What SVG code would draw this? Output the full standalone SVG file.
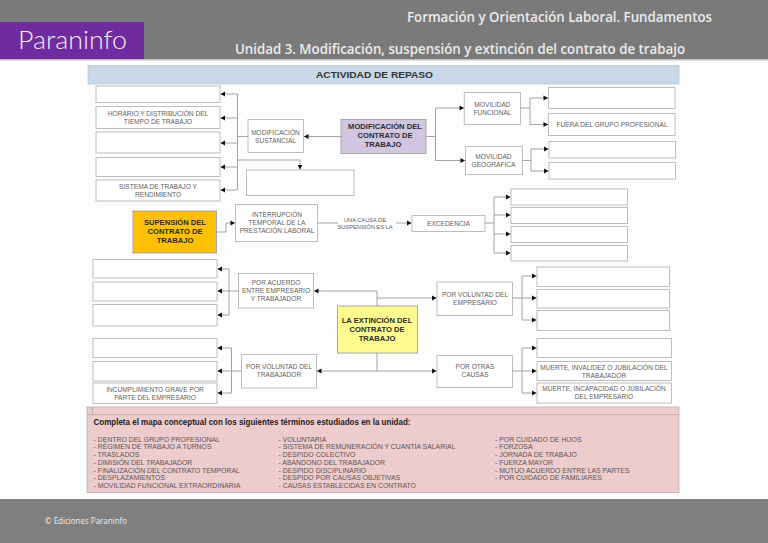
<svg xmlns="http://www.w3.org/2000/svg" width="768" height="543" viewBox="0 0 768 543">
<defs>
<marker id="a" markerUnits="userSpaceOnUse" markerWidth="6" markerHeight="6" refX="5" refY="3" orient="auto"><path d="M0.5 0.6L5 3L0.5 5.4Z" fill="#111"/></marker>
</defs>
<style>
text{font-family:"Liberation Sans",Arial,sans-serif;text-anchor:middle}
.b rect{fill:#fff;stroke:#bdbdbd;stroke-width:1}
.b text,.t text{font-size:6.6px;fill:#5e5e5e}
.k text{font-size:7.6px;font-weight:bold;fill:#2c2c2c}
.k rect{stroke:#a8a8a8;stroke-width:1}
#connectors path{fill:none;stroke:#9a9a9a;stroke-width:.9}
#connectors path.h{marker-end:url(#a)}
.l text{text-anchor:start;font-size:6.9px;fill:#5f5555}
.hd text{font-family:"Open Sans",sans-serif;font-weight:600;fill:#ececec;font-size:14px;text-anchor:start}
</style>
<rect width="768" height="543" fill="#fdfdfd"/>
<g id="banner" class="hd">
<rect width="768" height="59" fill="#7a7a7a"/>
<rect y="59" width="768" height="1.500" fill="#bdbdbd"/>
<rect y="22" width="144" height="37" fill="#6f2c9e"/>
<text x="407" y="21.500" textLength="305" lengthAdjust="spacingAndGlyphs">Formación y Orientación Laboral. Fundamentos</text>
<text x="235" y="54" textLength="450" lengthAdjust="spacingAndGlyphs">Unidad 3. Modificación, suspensión y extinción del contrato de trabajo</text>
<text x="18" y="49" textLength="109" lengthAdjust="spacingAndGlyphs" style="font-family:Lato,sans-serif;font-weight:300;font-size:25px;fill:#f2ecf6">Paraninfo</text>
</g>
<g id="title">
<rect x="88" y="65.500" width="591" height="18.500" fill="#c9d7e6" stroke="#c4c9ce" stroke-width=".8"/>
<text x="374.500" y="78.300" font-size="9.600" font-weight="bold" fill="#333" textLength="117" lengthAdjust="spacingAndGlyphs">ACTIVIDAD DE REPASO</text>
</g>
<g id="n1" class="b"><rect x="96" y="86" width="124" height="16.500"/></g>
<g id="n2" class="b"><rect x="96" y="106.500" width="124" height="22"/><text x="158" y="115.500">HORARIO Y DISTRIBUCIÓN DEL</text><text x="158" y="123.500">TIEMPO DE TRABAJO</text></g>
<g id="n3" class="b"><rect x="96" y="132" width="124" height="21"/></g>
<g id="n4" class="b"><rect x="96" y="157.500" width="124" height="19"/></g>
<g id="n5" class="b"><rect x="96" y="180" width="124" height="21"/><text x="158" y="188.500">SISTEMA DE TRABAJO Y</text><text x="158" y="196.500">RENDIMIENTO</text></g>
<g id="n6" class="b"><rect x="248" y="119.500" width="55.500" height="33"/><text x="275.500" y="134.500">MODIFICACIÓN</text><text x="275.500" y="142.500">SUSTANCIAL</text></g>
<g id="n7" class="k"><rect x="341" y="119.500" width="85" height="34" fill="#d0c6e0"/><text x="385" y="129">MODIFICACIÓN DEL</text><text x="385" y="138">CONTRATO DE</text><text x="383" y="147">TRABAJO</text></g>
<g id="n8" class="b"><rect x="246.500" y="170" width="107.500" height="25.500"/></g>
<g id="n9" class="k"><rect x="133" y="211" width="83.500" height="42" fill="#fec000"/><text x="175" y="225">SUPENSIÓN DEL</text><text x="175" y="234">CONTRATO DE</text><text x="175" y="243">TRABAJO</text></g>
<g id="n10" class="b"><rect x="235.500" y="204.500" width="82" height="37"/><text x="277" y="217">INTERRUPCIÓN</text><text x="277" y="225">TEMPORAL DE LA</text><text x="277" y="233">PRESTACIÓN LABORAL</text></g>
<g id="n11" class="b"><rect x="464.300" y="92.500" width="56.200" height="32"/><text x="492.500" y="106.500">MOVILIDAD</text><text x="492.500" y="114.500">FUNCIONAL</text></g>
<g id="n12" class="b"><rect x="548.500" y="87.500" width="126.500" height="21"/></g>
<g id="n13" class="b"><rect x="548.500" y="113.500" width="126.500" height="22"/><text x="612" y="126.500">FUERA DEL GRUPO PROFESIONAL</text></g>
<g id="n14" class="b"><rect x="465.500" y="146.500" width="57" height="28"/><text x="493.500" y="158.500">MOVILIDAD</text><text x="493.500" y="166.500">GEOGRAFICA</text></g>
<g id="n15" class="b"><rect x="549" y="141.500" width="126.500" height="16.500"/></g>
<g id="n16" class="b"><rect x="549" y="162.500" width="126.500" height="16.500"/></g>
<g id="n17" class="b"><rect x="412" y="215.500" width="73" height="16"/><text x="448.500" y="225.500">EXCEDENCIA</text></g>
<g id="n18" class="b"><rect x="511" y="189" width="116.500" height="16"/></g>
<g id="n19" class="b"><rect x="511" y="207.500" width="116.500" height="16"/></g>
<g id="n20" class="b"><rect x="511" y="226.500" width="116.500" height="16"/></g>
<g id="n21" class="b"><rect x="511" y="245.500" width="116.500" height="15.500"/></g>
<g id="n22" class="b"><rect x="93" y="259.500" width="124" height="18.500"/></g>
<g id="n23" class="b"><rect x="93" y="282" width="124" height="19"/></g>
<g id="n24" class="b"><rect x="93" y="304.500" width="124" height="21.500"/></g>
<g id="n25" class="b"><rect x="238.500" y="273.500" width="75" height="34.500"/><text x="276" y="285">POR ACUERDO</text><text x="276" y="293">ENTRE EMPRESARIO</text><text x="276" y="301">Y TRABAJADOR</text></g>
<g id="n26" class="k"><rect x="337.500" y="306" width="80" height="47" fill="#fdfb8f"/><text x="377" y="323">LA EXTINCIÓN DEL</text><text x="377" y="332">CONTRATO DE</text><text x="377" y="341">TRABAJO</text></g>
<g id="n27" class="b"><rect x="437" y="282" width="75.500" height="33.500"/><text x="475" y="296.500">POR VOLUNTAD DEL</text><text x="475" y="304.500">EMPRESARIO</text></g>
<g id="n28" class="b"><rect x="537" y="267" width="132.500" height="19.500"/></g>
<g id="n29" class="b"><rect x="537" y="289.500" width="132.500" height="18.500"/></g>
<g id="n30" class="b"><rect x="537" y="310.500" width="132.500" height="20"/></g>
<g id="n31" class="b"><rect x="93" y="338.500" width="124" height="19"/></g>
<g id="n32" class="b"><rect x="93" y="361.500" width="124" height="19.500"/></g>
<g id="n33" class="b"><rect x="93" y="383" width="124" height="20.500"/><text x="155" y="391.500">INCUMPLIMIENTO GRAVE POR</text><text x="155" y="399.500">PARTE DEL EMPRESARIO</text></g>
<g id="n34" class="b"><rect x="241.500" y="354.500" width="75" height="33.500"/><text x="279" y="369">POR VOLUNTAD DEL</text><text x="279" y="377">TRABAJADOR</text></g>
<g id="n35" class="b"><rect x="437" y="355.500" width="75.500" height="32"/><text x="475" y="368.500">POR OTRAS</text><text x="475" y="376.500">CAUSAS</text></g>
<g id="n36" class="b"><rect x="537" y="338.500" width="134.500" height="19"/></g>
<g id="n37" class="b"><rect x="537" y="361.500" width="134.500" height="19"/><text x="604" y="369.500">MUERTE, INVALIDEZ O JUBILACIÓN DEL</text><text x="604" y="377.500">TRABAJADOR</text></g>
<g id="n38" class="b"><rect x="537" y="383" width="134.500" height="20"/><text x="604" y="391">MUERTE, INCAPACIDAD O JUBILACIÓN</text><text x="604" y="399">DEL EMPRESARIO</text></g>
<g id="connectors">
<path class="h" d="M341 136.500H304"/>
<path d="M248 136.500H237.500M237.500 94V190"/>
<path class="h" d="M237.500 94H220.500"/><path class="h" d="M237.500 118H220.500"/><path class="h" d="M237.500 143H220.500"/><path class="h" d="M237.500 167H220.500"/><path class="h" d="M237.500 190H220.500"/>
<path class="h" d="M237.500 160H300V169.500"/>
<path d="M426 136.500H435.500M435.500 108V160.500"/>
<path class="h" d="M435.500 108H464"/><path class="h" d="M435.500 160.500H465"/>
<path d="M520.500 108H530M530 98V124.500"/>
<path class="h" d="M530 98H548"/><path class="h" d="M530 124.500H548"/>
<path d="M522.500 160.500H531M531 149V171"/>
<path class="h" d="M531 149H548.500"/><path class="h" d="M531 171H548.500"/>
<path class="h" d="M216.500 232H226V223H235"/>
<path d="M317.500 223H338"/>
<path class="h" d="M396 223H411.500"/>
<path d="M485 223H494M494 197V253"/>
<path class="h" d="M494 197H510.500"/><path class="h" d="M494 215H510.500"/><path class="h" d="M494 234H510.500"/><path class="h" d="M494 253H510.500"/>
<path class="h" d="M377 306V291H314"/>
<path class="h" d="M377 298H436.500"/>
<path class="h" d="M377 353V371H317"/>
<path class="h" d="M377 371H436.500"/>
<path d="M238.500 291H229M229 269V315"/>
<path class="h" d="M229 269H217.500"/><path class="h" d="M229 291H217.500"/><path class="h" d="M229 315H217.500"/>
<path d="M241.500 371H231.500M231.500 348V393"/>
<path class="h" d="M231.500 348H217.500"/><path class="h" d="M231.500 371H217.500"/><path class="h" d="M231.500 393H217.500"/>
<path d="M512.500 298H522M522 276V320"/>
<path class="h" d="M522 276H536.500"/><path class="h" d="M522 298H536.500"/><path class="h" d="M522 320H536.500"/>
<path d="M512.500 371H522M522 348V393"/>
<path class="h" d="M522 348H536.500"/><path class="h" d="M522 371H536.500"/><path class="h" d="M522 393H536.500"/>
</g>
<g id="causa" class="t"><text x="365" y="221.500" style="font-size:5.700px">UNA CAUSA DE</text><text x="365" y="228.500" style="font-size:5.700px">SUSPENSIÓN ES LA</text></g>
<g id="panel">
<rect x="87" y="407" width="592" height="85.500" fill="#eccccc" stroke="#b5a8a8" stroke-width=".7"/>
<path d="M87 414.500H679M92.500 407V414.500" fill="none" stroke="#b5a8a8" stroke-width=".7"/>
<text x="93.500" y="425" font-size="9.200" font-weight="bold" fill="#222" style="text-anchor:start" textLength="317" lengthAdjust="spacingAndGlyphs">Completa el mapa conceptual con los siguientes términos estudiados en la unidad:</text>
<g class="l">
<text x="93.500" y="441.500">- DENTRO DEL GRUPO PROFESIONAL</text><text x="93.500" y="449.300">- RÉGIMEN DE TRABAJO A TURNOS</text><text x="93.500" y="457">- TRASLADOS</text><text x="93.500" y="464.800">- DIMISIÓN DEL TRABAJADOR</text><text x="93.500" y="472.500">- FINALIZACIÓN DEL CONTRATO TEMPORAL</text><text x="93.500" y="480.300">- DESPLAZAMIENTOS</text><text x="93.500" y="488">- MOVILIDAD FUNCIONAL EXTRAORDINARIA</text>
<text x="278.500" y="441.500">- VOLUNTARIA</text><text x="278.500" y="449.300">- SISTEMA DE REMUNERACIÓN Y CUANTÍA SALARIAL</text><text x="278.500" y="457">- DESPIDO COLECTIVO</text><text x="278.500" y="464.800">- ABANDONO DEL TRABAJADOR</text><text x="278.500" y="472.500">- DESPIDO DISCIPLINARIO</text><text x="278.500" y="480.300">- DESPIDO POR CAUSAS OBJETIVAS</text><text x="278.500" y="488">- CAUSAS ESTABLECIDAS EN CONTRATO</text>
<text x="495" y="441.500">- POR CUIDADO DE HIJOS</text><text x="495" y="449.300">- FORZOSA</text><text x="495" y="457">- JORNADA DE TRABAJO</text><text x="495" y="464.800">- FUERZA MAYOR</text><text x="495" y="472.500">- MUTUO ACUERDO ENTRE LAS PARTES</text><text x="495" y="480.300">- POR CUIDADO DE FAMILIARES</text>
</g>
</g>
<g id="footer">
<rect y="499" width="768" height="44" fill="#7f7f7f"/>
<text x="45" y="524" font-size="8.500" fill="#ececec" style="font-family:'Open Sans',sans-serif;text-anchor:start" textLength="82" lengthAdjust="spacingAndGlyphs">© Ediciones Paraninfo</text>
</g>
</svg>
